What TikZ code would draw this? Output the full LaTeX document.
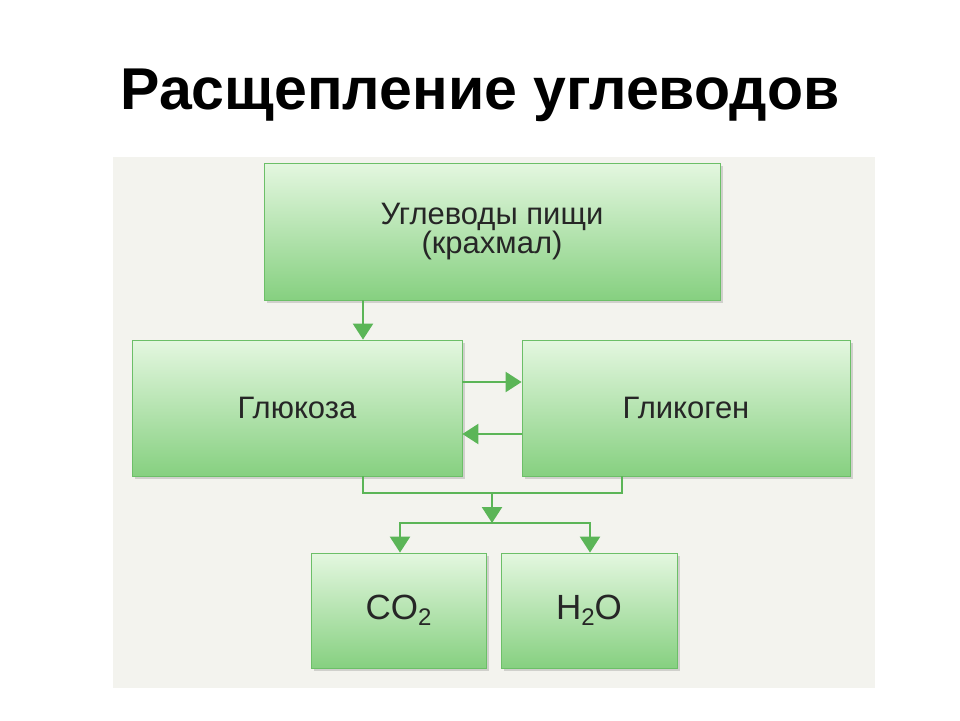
\documentclass[tikz,border=0pt]{standalone}
\usepackage{fontspec}
\setmainfont{Liberation Sans}
\usetikzlibrary{arrows.meta,shadows}
\definecolor{gtop}{HTML}{E4F7E0}
\definecolor{gbot}{HTML}{86D080}
\definecolor{gline}{HTML}{6CBF68}
\definecolor{garrow}{HTML}{5BB557}
\definecolor{panel}{HTML}{F3F3EE}
\newcommand{\subtwo}{\raisebox{-0.3ex}{\fontsize{24}{24}\selectfont 2}}
\tikzset{
 gbox/.style={draw=gline,line width=0.8pt,top color=gtop,bottom color=gbot,
   drop shadow={shadow xshift=3pt,shadow yshift=-3pt,opacity=0.3},
   font=\fontsize{31}{31}\selectfont,text=black!85,align=center,inner sep=0pt},
 conn/.style={draw=garrow,line width=2.4pt},
 arr/.style={conn,-{Triangle[width=20pt,length=16pt]}}
}
\begin{document}
\begin{tikzpicture}[x=1pt,y=-1pt]
\useasboundingbox (0,0) rectangle (960,720);
\fill[white] (0,0) rectangle (960,720);
\fill[panel] (113,157) rectangle (875,688);
\node[font=\bfseries\fontsize{59}{60}\selectfont] (title) at (480,95) {Расщепление углеводов};
\node[gbox,minimum width=456pt,minimum height=137pt] (food) at (492,231.5) {Углеводы пищи\\[-2pt](крахмал)};
\node[gbox,minimum width=330pt,minimum height=136pt] (glu) at (297,408) {Глюкоза};
\node[gbox,minimum width=328pt,minimum height=136pt] (gly) at (686,408) {Гликоген};
\node[gbox,font=\fontsize{35}{35}\selectfont,minimum width=175pt,minimum height=115pt] (co2) at (398.5,610.5) {CO\subtwo};
\node[gbox,font=\fontsize{35}{35}\selectfont,minimum width=176pt,minimum height=115pt] (h2o) at (589,610.5) {H\subtwo O};
\draw[arr] (food.south -| 363,0) -- (glu.north -| 363,0);
\draw[arr] (glu.east |- 0,382) -- (gly.west |- 0,382);
\draw[arr] (gly.west |- 0,434) -- (glu.east |- 0,434);
\coordinate (j1) at (492,493);
\coordinate (j2) at (492,523);
\draw[conn] (glu.south -| 363,0) |- (j1) -| (gly.south -| 622,0);
\draw[arr] (j1) -- (j2);
\draw[conn] (j2) -| (400,540);
\draw[conn] (j2) -| (590,540);
\draw[arr] (400,522) -- (co2.north -| 400,0);
\draw[arr] (590,522) -- (h2o.north -| 590,0);
\end{tikzpicture}
\end{document}
